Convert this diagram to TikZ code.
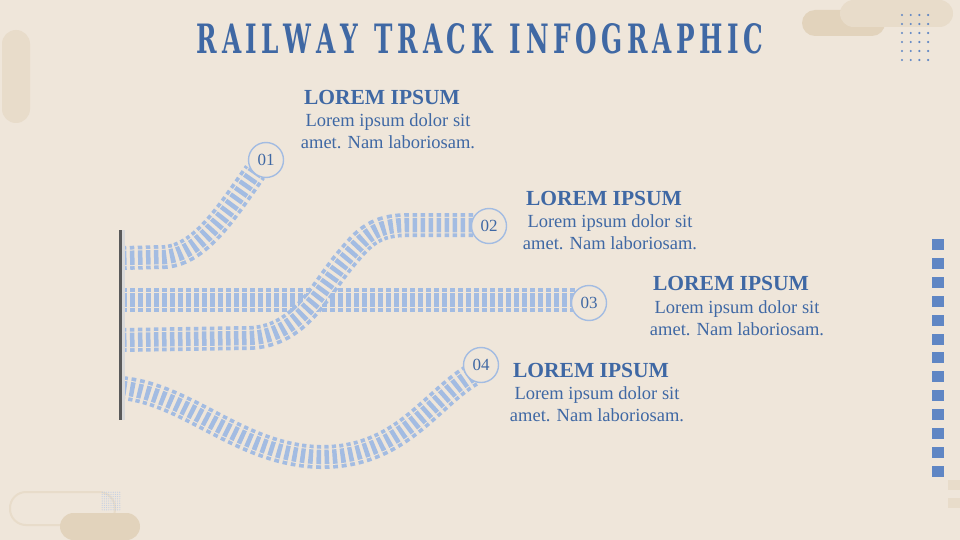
\documentclass[tikz,border=0pt]{standalone}
\usepackage{fontspec}
\setmainfont{Liberation Serif}
\newfontfamily\titlefont{DejaVu Serif Condensed}
\definecolor{bg}{HTML}{EFE6DA}
\definecolor{pillA}{HTML}{E2D3BC}
\definecolor{pillB}{HTML}{E8DCCA}
\definecolor{trk}{HTML}{A3BCE2}
\definecolor{ink}{HTML}{3F68A4}
\definecolor{sq}{HTML}{5F86C4}
\tikzset{
  x=1pt,y=-1pt,
  trackA/.style={draw=trk,line width=24pt,dash pattern=on 4.5pt off 3.5pt},
  trackB/.style={draw=bg,line width=16.5pt},
  trackC/.style={draw=trk,line width=14.5pt,dash pattern=on 4.5pt off 3.5pt},
  numc/.style={circle,draw=trk,line width=1.4pt,minimum size=35pt,inner sep=0pt,text=ink,font=\fontsize{17}{17}\selectfont},
  head/.style={text=ink,font=\bfseries\fontsize{21.5}{21.5}\selectfont,inner sep=0pt},
  body/.style={text=ink,font=\fontsize{18.5}{21.5}\selectfont,align=center,inner sep=0pt},
}
\newcommand{\railtrack}[1]{%
  \draw[trackA] #1; \draw[trackB] #1; \draw[trackC] #1;}
\begin{document}
\begin{tikzpicture}
\fill[bg] (0,0) rectangle (960,540);
\useasboundingbox (0,0) rectangle (960,540);
% decorations
\fill[pillB,rounded corners=14pt] (2,30) rectangle (30,123);
\fill[pillA,rounded corners=13pt] (802,10) rectangle (885,36);
\fill[pillB,rounded corners=13.5pt] (840,0) rectangle (953,27);
\foreach \i in {0,...,3}\foreach \j in {0,...,5}
  \fill[sq] (902+8.7*\i,15+9*\j) circle (1.2);
\draw[pillB,line width=2pt,rounded corners=16pt] (10,492) rectangle (115,525);
\fill[pillA,rounded corners=13.5pt] (60,513) rectangle (140,540);
\foreach \i in {-4,...,4}\foreach \j in {-4,...,4}
  \fill[trk!80!white,opacity=0.8] (111+2.2*\i,501+2.2*\j) circle (0.6);
\foreach \k in {0,...,12}
  \fill[sq] (932,239+18.9*\k) rectangle (944,250+18.9*\k);
\fill[pillB] (948,480) rectangle (960,490);
\fill[pillB] (948,498) rectangle (960,508);
% title
\node[text=ink,inner sep=0pt] (title) at (480,39) {\resizebox{566pt}{30pt}{\titlefont\bfseries R\,A\,I\,L\,W\,A\,Y\ \ T\,R\,A\,C\,K\ \ I\,N\,F\,O\,G\,R\,A\,P\,H\,I\,C}};
% tracks
\railtrack{(122,258) -- (165,257) .. controls (200,254) and (225,215) .. (255,172)}
\railtrack{(122,300) -- (575,300)}
\railtrack{(122,340) -- (250,338) .. controls (300,336) and (320,290) .. (345,260) .. controls (365,236) and (375,225) .. (410,225) -- (476,225)}
\railtrack{(122,388) .. controls (190,395) and (240,455) .. (320,457) .. controls (400,458) and (430,400) .. (472,375)}
% buffer
\fill[black!15] (121,230) rectangle (125,420);
\fill[gray!70!black] (119,230) rectangle (122,420);
% circles
\node[numc,fill=bg] (c1) at (266,160) {01};
\node[numc,fill=bg] (c2) at (489,226) {02};
\node[numc,fill=bg] (c3) at (589,303) {03};
\node[numc,fill=bg] (c4) at (481,365) {04};
% texts
\node[head] (h1) at (382,97) {LOREM IPSUM};
\node[body] (b1) at (388,131) {Lorem ipsum dolor sit\\amet. Nam laboriosam.};
\node[head] (h2) at (604,198) {LOREM IPSUM};
\node[body] (b2) at (610,232) {Lorem ipsum dolor sit\\amet. Nam laboriosam.};
\node[head] (h3) at (731,283) {LOREM IPSUM};
\node[body] (b3) at (737,318) {Lorem ipsum dolor sit\\amet. Nam laboriosam.};
\node[head] (h4) at (591,370) {LOREM IPSUM};
\node[body] (b4) at (597,404) {Lorem ipsum dolor sit\\amet. Nam laboriosam.};
\end{tikzpicture}
\end{document}
